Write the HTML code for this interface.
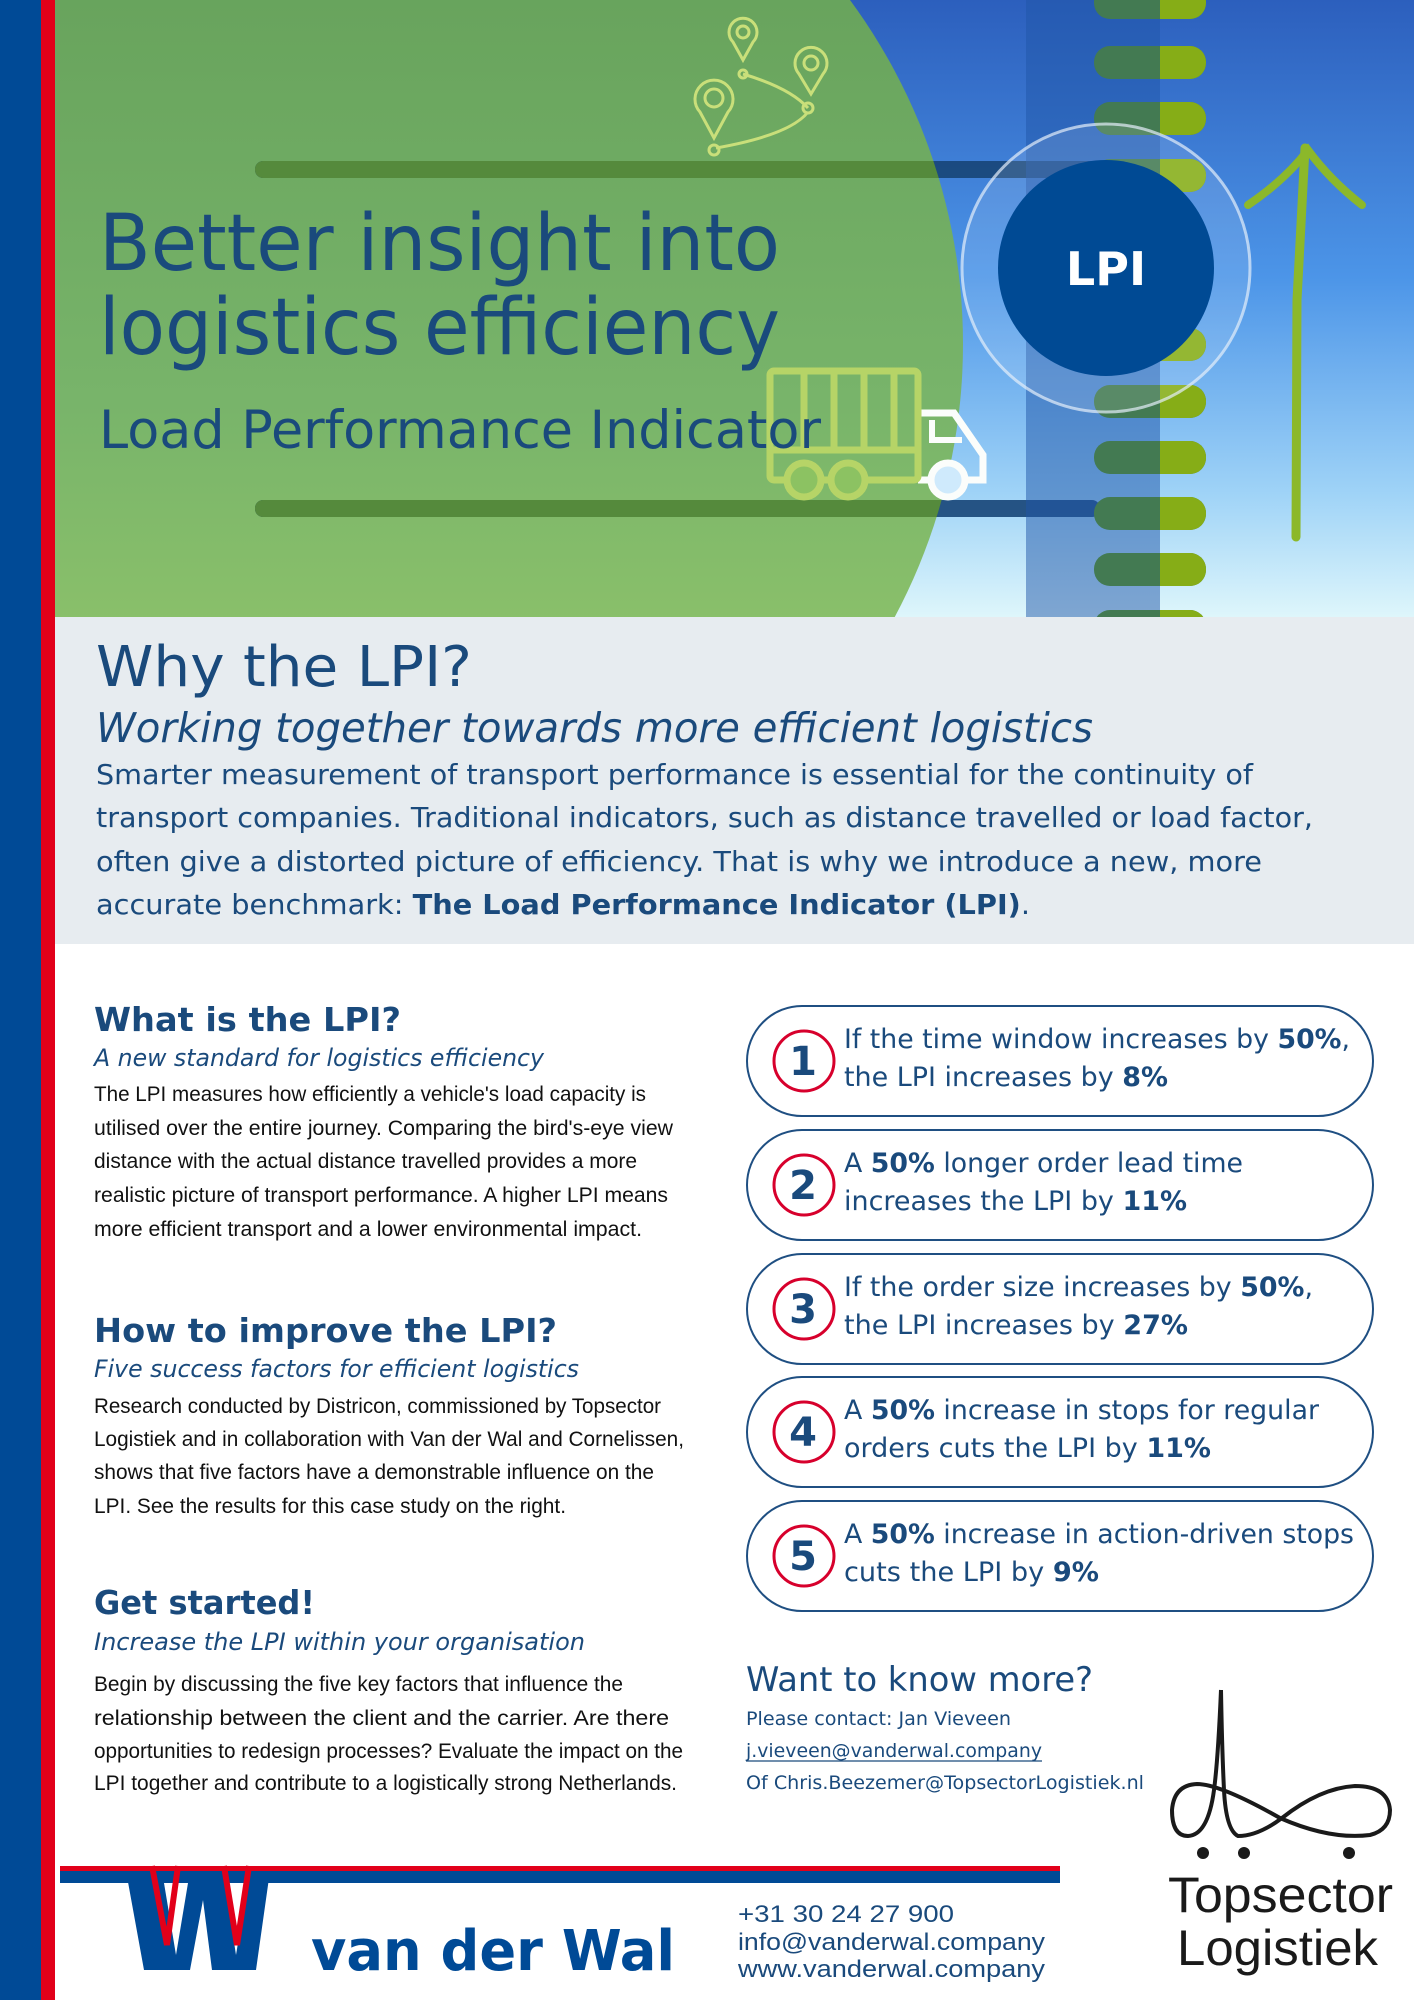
<!DOCTYPE html>
<html><head><meta charset="utf-8"><style>
html,body{margin:0;padding:0;background:#fff}
svg{display:block}
.v{font-family:"DejaVu Sans","Liberation Sans",sans-serif}
.n{font-family:"Liberation Sans",sans-serif}
</style></head><body>
<svg width="1414" height="2000" viewBox="0 0 1414 2000" xmlns="http://www.w3.org/2000/svg">
<defs>
<linearGradient id="sky" x1="0" y1="0" x2="0" y2="1">
<stop offset="0" stop-color="#2c5fbd"/><stop offset="0.45" stop-color="#4c95e8"/><stop offset="0.8" stop-color="#9fd3f7"/><stop offset="1" stop-color="#def6fb"/></linearGradient>
<linearGradient id="grn" x1="0" y1="0" x2="0" y2="1">
<stop offset="0" stop-color="#5f9a55"/><stop offset="0.55" stop-color="#78b46a"/><stop offset="1" stop-color="#a2d06a"/></linearGradient>
<clipPath id="hc"><rect x="0" y="0" width="1414" height="617"/></clipPath>
<clipPath id="cc"><circle cx="383" cy="344" r="580"/></clipPath>
</defs>
<g clip-path="url(#hc)">
<rect x="0" y="0" width="1414" height="617" fill="url(#sky)"/>
<circle cx="383" cy="344" r="580" fill="url(#grn)"/>
<rect x="255" y="161" width="845" height="17" rx="8" fill="#174577" opacity="0.9"/>
<rect x="255" y="500" width="845" height="17" rx="8" fill="#174577" opacity="0.9"/>
<g clip-path="url(#cc)">
<rect x="255" y="161" width="845" height="17" rx="8" fill="#558a3c"/>
<rect x="255" y="500" width="845" height="17" rx="8" fill="#558a3c"/>
</g>
<rect x="1026" y="0" width="134" height="617" fill="#1f55a8" opacity="0.5"/>
<g fill="#437a52">
<rect x="1094" y="-14" width="112" height="33" rx="16"/>
<rect x="1094" y="46" width="112" height="33" rx="16"/>
<rect x="1094" y="102" width="112" height="33" rx="16"/>
<rect x="1094" y="159" width="112" height="33" rx="16"/>
<rect x="1094" y="328" width="112" height="33" rx="16"/>
<rect x="1094" y="385" width="112" height="33" rx="16"/>
<rect x="1094" y="441" width="112" height="33" rx="16"/>
<rect x="1094" y="497" width="112" height="33" rx="16"/>
<rect x="1094" y="553" width="112" height="33" rx="16"/>
<rect x="1094" y="610" width="112" height="33" rx="16"/>
</g>
<g fill="#86ad17">
<rect x="1160" y="-14" width="46" height="33" rx="16"/><rect x="1160" y="-14" width="16" height="33"/>
<rect x="1160" y="46" width="46" height="33" rx="16"/><rect x="1160" y="46" width="16" height="33"/>
<rect x="1160" y="102" width="46" height="33" rx="16"/><rect x="1160" y="102" width="16" height="33"/>
<rect x="1160" y="159" width="46" height="33" rx="16"/><rect x="1160" y="159" width="16" height="33"/>
<rect x="1160" y="328" width="46" height="33" rx="16"/><rect x="1160" y="328" width="16" height="33"/>
<rect x="1160" y="385" width="46" height="33" rx="16"/><rect x="1160" y="385" width="16" height="33"/>
<rect x="1160" y="441" width="46" height="33" rx="16"/><rect x="1160" y="441" width="16" height="33"/>
<rect x="1160" y="497" width="46" height="33" rx="16"/><rect x="1160" y="497" width="16" height="33"/>
<rect x="1160" y="553" width="46" height="33" rx="16"/><rect x="1160" y="553" width="16" height="33"/>
<rect x="1160" y="610" width="46" height="33" rx="16"/><rect x="1160" y="610" width="16" height="33"/>
</g>
<circle cx="1106" cy="268" r="144" fill="#ffffff" fill-opacity="0.12" stroke="#e4eefa" stroke-opacity="0.7" stroke-width="3"/>
<circle cx="1106" cy="268" r="108" fill="#004a94"/>
<text x="1106" y="285" text-anchor="middle" class="v" font-size="46" font-weight="bold" fill="#fff">LPI</text>
<path d="M1305 148 L1297 300 L1296 537" stroke="#8cb82a" stroke-width="9" fill="none" stroke-linecap="round"/>
<path d="M1248 205 Q1285 180 1308 150 Q1330 180 1362 205" stroke="#8cb82a" stroke-width="8" fill="none" stroke-linecap="round"/>
<g fill="none" stroke="#c9df7a" stroke-width="3">
<path d="M743 74 Q790 88 808 108 M808 112 Q790 135 716 148"/>
<circle cx="743" cy="74" r="4"/><circle cx="808" cy="108" r="5"/><circle cx="714" cy="150" r="5"/>
<path d="M743 60 L733 42 A14 14 0 1 1 753 42 Z"/><circle cx="743" cy="32" r="6"/>
<path d="M811 94 L799 74 A16 16 0 1 1 823 74 Z"/><circle cx="811" cy="63" r="7"/>
<path d="M714 138 L700 112 A19 19 0 1 1 728 112 Z"/><circle cx="714" cy="98" r="9"/>
</g>
<g fill="none" stroke-width="7">
<path d="M918 413 L954 413 L983 455 L983 480 L918 480" stroke="#fbfdfb"/>
<path d="M932 420 L932 440 L962 440" stroke="#fbfdfb" stroke-width="6"/>
<circle cx="948" cy="480" r="17" stroke="#fbfdfb" fill="#cfeafc"/>
<rect x="770" y="371" width="148" height="109" rx="4" stroke="#b6d467"/>
<path d="M804 371 V450 M834 371 V450 M864 371 V450 M894 371 V450 M770 450 H918" stroke="#b6d467"/>
<circle cx="804" cy="480" r="17" stroke="#b6d467" fill="#8cc262"/>
<circle cx="848" cy="480" r="17" stroke="#b6d467" fill="#8cc262"/>
</g>
<text x="99" y="270" class="v" font-size="78" fill="#1a4a7c" textLength="681" lengthAdjust="spacingAndGlyphs">Better insight into</text>
<text x="99" y="354" class="v" font-size="78" fill="#1a4a7c" textLength="681" lengthAdjust="spacingAndGlyphs">logistics efficiency</text>
<text x="99" y="448" class="v" font-size="53" fill="#1a4a7c" textLength="722" lengthAdjust="spacingAndGlyphs">Load Performance Indicator</text>
</g>
<rect x="55" y="617" width="1359" height="327" fill="#e7ecf0"/>
<text x="96" y="686" class="v" font-size="56" fill="#1a4a7c" textLength="376" lengthAdjust="spacingAndGlyphs">Why the LPI?</text>
<text x="96" y="742" class="v" font-size="41" font-style="italic" fill="#1a4a7c" textLength="997" lengthAdjust="spacingAndGlyphs">Working together towards more efficient logistics</text>
<g class="v" font-size="28" fill="#1a4a7c">
<text x="96" y="784" textLength="1157" lengthAdjust="spacingAndGlyphs">Smarter measurement of transport performance is essential for the continuity of</text>
<text x="96" y="827" textLength="1217" lengthAdjust="spacingAndGlyphs">transport companies. Traditional indicators, such as distance travelled or load factor,</text>
<text x="96" y="871" textLength="1166" lengthAdjust="spacingAndGlyphs">often give a distorted picture of efficiency. That is why we introduce a new, more</text>
<text x="96" y="914" textLength="934" lengthAdjust="spacingAndGlyphs">accurate benchmark: <tspan font-weight="bold">The Load Performance Indicator (LPI)</tspan>.</text>
</g>
<g fill="#1a4a7c" class="v">
<text x="94" y="1031" font-size="33" font-weight="bold" textLength="307" lengthAdjust="spacingAndGlyphs">What is the LPI?</text>
<text x="94" y="1066" font-size="24" font-style="italic" textLength="450" lengthAdjust="spacingAndGlyphs">A new standard for logistics efficiency</text>
<text x="94" y="1342" font-size="33" font-weight="bold" textLength="463" lengthAdjust="spacingAndGlyphs">How to improve the LPI?</text>
<text x="94" y="1377" font-size="24" font-style="italic" textLength="485" lengthAdjust="spacingAndGlyphs">Five success factors for efficient logistics</text>
<text x="94" y="1614" font-size="33" font-weight="bold" textLength="221" lengthAdjust="spacingAndGlyphs">Get started!</text>
<text x="94" y="1650" font-size="24" font-style="italic" textLength="491" lengthAdjust="spacingAndGlyphs">Increase the LPI within your organisation</text>
</g>
<g class="n" font-size="21" fill="#111">
<text x="94" y="1101" textLength="552" lengthAdjust="spacingAndGlyphs">The LPI measures how efficiently a vehicle's load capacity is</text>
<text x="94" y="1135" textLength="579" lengthAdjust="spacingAndGlyphs">utilised over the entire journey. Comparing the bird's-eye view</text>
<text x="94" y="1168" textLength="543" lengthAdjust="spacingAndGlyphs">distance with the actual distance travelled provides a more</text>
<text x="94" y="1202" textLength="574" lengthAdjust="spacingAndGlyphs">realistic picture of transport performance. A higher LPI means</text>
<text x="94" y="1236" textLength="548" lengthAdjust="spacingAndGlyphs">more efficient transport and a lower environmental impact.</text>
<text x="94" y="1413" textLength="567" lengthAdjust="spacingAndGlyphs">Research conducted by Districon, commissioned by Topsector</text>
<text x="94" y="1446" textLength="590" lengthAdjust="spacingAndGlyphs">Logistiek and in collaboration with Van der Wal and Cornelissen,</text>
<text x="94" y="1479" textLength="560" lengthAdjust="spacingAndGlyphs">shows that five factors have a demonstrable influence on the</text>
<text x="94" y="1513" textLength="472" lengthAdjust="spacingAndGlyphs">LPI. See the results for this case study on the right.</text>
<text x="94" y="1691" textLength="529" lengthAdjust="spacingAndGlyphs">Begin by discussing the five key factors that influence the</text>
<text x="94" y="1725" textLength="575" lengthAdjust="spacingAndGlyphs">relationship between the client and the carrier. Are there</text>
<text x="94" y="1758" textLength="589" lengthAdjust="spacingAndGlyphs">opportunities to redesign processes? Evaluate the impact on the</text>
<text x="94" y="1790" textLength="583" lengthAdjust="spacingAndGlyphs">LPI together and contribute to a logistically strong Netherlands.</text>
</g>
<g fill="none" stroke="#1f4f82" stroke-width="2">
<rect x="747" y="1006" width="626" height="110" rx="55"/>
<rect x="747" y="1130" width="626" height="110" rx="55"/>
<rect x="747" y="1254" width="626" height="110" rx="55"/>
<rect x="747" y="1377" width="626" height="110" rx="55"/>
<rect x="747" y="1501" width="626" height="110" rx="55"/>
</g>
<g fill="#fff" stroke="#d7002c" stroke-width="3">
<circle cx="804" cy="1061" r="30"/><circle cx="804" cy="1185" r="30"/><circle cx="804" cy="1309" r="30"/><circle cx="804" cy="1432" r="30"/><circle cx="804" cy="1556" r="30"/>
</g>
<g class="v" font-size="40" font-weight="bold" fill="#1a4a7c" text-anchor="middle">
<text x="803" y="1075">1</text><text x="803" y="1199">2</text><text x="803" y="1323">3</text><text x="803" y="1446">4</text><text x="803" y="1570">5</text>
</g>
<g class="v" font-size="27" fill="#1a4a7c">
<text x="844" y="1048" textLength="506" lengthAdjust="spacingAndGlyphs">If the time window increases by <tspan font-weight="bold">50%</tspan>,</text>
<text x="844" y="1086" textLength="324" lengthAdjust="spacingAndGlyphs">the LPI increases by <tspan font-weight="bold">8%</tspan></text>
<text x="844" y="1172" textLength="399" lengthAdjust="spacingAndGlyphs">A <tspan font-weight="bold">50%</tspan> longer order lead time</text>
<text x="844" y="1210" textLength="343" lengthAdjust="spacingAndGlyphs">increases the LPI by <tspan font-weight="bold">11%</tspan></text>
<text x="844" y="1296" textLength="469" lengthAdjust="spacingAndGlyphs">If the order size increases by <tspan font-weight="bold">50%</tspan>,</text>
<text x="844" y="1334" textLength="344" lengthAdjust="spacingAndGlyphs">the LPI increases by <tspan font-weight="bold">27%</tspan></text>
<text x="844" y="1419" textLength="475" lengthAdjust="spacingAndGlyphs">A <tspan font-weight="bold">50%</tspan> increase in stops for regular</text>
<text x="844" y="1457" textLength="367" lengthAdjust="spacingAndGlyphs">orders cuts the LPI by <tspan font-weight="bold">11%</tspan></text>
<text x="844" y="1543" textLength="510" lengthAdjust="spacingAndGlyphs">A <tspan font-weight="bold">50%</tspan> increase in action-driven stops</text>
<text x="844" y="1581" textLength="255" lengthAdjust="spacingAndGlyphs">cuts the LPI by <tspan font-weight="bold">9%</tspan></text>
</g>
<g class="v" fill="#1a4a7c">
<text x="746" y="1691" font-size="34" textLength="347" lengthAdjust="spacingAndGlyphs">Want to know more?</text>
<text x="746" y="1725" font-size="19" textLength="265" lengthAdjust="spacingAndGlyphs">Please contact: Jan Vieveen</text>
<text x="746" y="1757" font-size="19" textLength="296" lengthAdjust="spacingAndGlyphs">j.vieveen@vanderwal.company</text>
<text x="746" y="1789" font-size="19" textLength="398" lengthAdjust="spacingAndGlyphs">Of Chris.Beezemer@TopsectorLogistiek.nl</text>
</g>
<line x1="746" y1="1761" x2="1042" y2="1761" stroke="#1a4a7c" stroke-width="1.2"/>
<g fill="none" stroke="#1a1a1a" stroke-width="4">
<path d="M1221 1690 Q1218 1760 1214 1790 Q1208 1835 1188 1836 Q1172 1836 1172 1810 Q1174 1785 1197 1784 Q1220 1784 1280 1818 Q1330 1840 1370 1835 Q1390 1830 1390 1810 Q1388 1786 1355 1786 Q1320 1788 1282 1818 Q1258 1836 1238 1836 Q1226 1830 1224 1790 Q1222 1750 1221 1690"/>
</g>
<g fill="#1a1a1a"><circle cx="1203" cy="1853" r="6"/><circle cx="1244" cy="1853" r="6"/><circle cx="1349" cy="1853" r="6"/></g>
<g class="n" font-size="50" fill="#1a1a1a">
<text x="1168" y="1912" textLength="225" lengthAdjust="spacingAndGlyphs">Topsector</text>
<text x="1177" y="1965" textLength="201" lengthAdjust="spacingAndGlyphs">Logistiek</text>
</g>
<rect x="60" y="1866" width="1000" height="6" fill="#e2001a"/>
<rect x="60" y="1871" width="1000" height="12" fill="#004a96"/>
<polygon points="126,1871 144,1970 190,1970 203,1900 212,1970 256,1970 270,1871 250,1871 236,1955 223,1871 190,1871 176,1955 162,1871" fill="#004a96"/>
<polyline points="152,1866 167,1945 178,1866" fill="none" stroke="#e2001a" stroke-width="6"/>
<polyline points="224,1866 237,1945 249,1866" fill="none" stroke="#e2001a" stroke-width="6"/>
<text x="311" y="1970" class="v" font-size="56" font-weight="bold" fill="#004a96" textLength="364" lengthAdjust="spacingAndGlyphs">van der Wal</text>
<g class="n" font-size="24" fill="#1a4a7c">
<text x="738" y="1922" textLength="216" lengthAdjust="spacingAndGlyphs">+31 30 24 27 900</text>
<text x="738" y="1950" textLength="307" lengthAdjust="spacingAndGlyphs">info@vanderwal.company</text>
<text x="738" y="1977" textLength="307" lengthAdjust="spacingAndGlyphs">www.vanderwal.company</text>
</g>
<rect x="0" y="0" width="41" height="2000" fill="#004a96"/>
<rect x="41" y="0" width="14" height="2000" fill="#e2001a"/>
</svg>
</body></html>
